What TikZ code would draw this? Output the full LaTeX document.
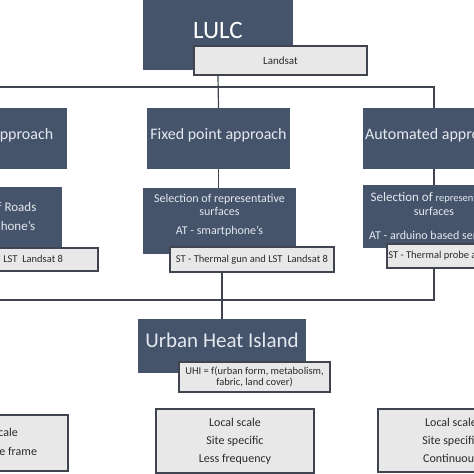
\documentclass[tikz,border=0pt]{standalone}
\usepackage{fontspec}
\setmainfont{Carlito}
\usepackage{xcolor}
\usepackage{tikz}
\usetikzlibrary{positioning,calc}

\definecolor{slate}{HTML}{46546B}
\definecolor{paper}{HTML}{E4E8EF}
\definecolor{sheet}{HTML}{E8E8E8}
\definecolor{rim}{HTML}{3F4450}
\definecolor{ink}{HTML}{2B2B2B}

% depth strut: lifts a node's text a little inside its box
\newcommand\lowstrut[1]{\rule[-#1]{0pt}{#1}}

\begin{document}
\begin{tikzpicture}[x=1pt, y=-1pt,
    darkbox/.style={rectangle, fill=slate, text=paper, inner sep=0pt,
                    align=center},
    greybox/.style={rectangle, draw=rim, fill=sheet, text=ink, line width=1.2pt,
                    inner sep=0pt, align=center},
    headfont/.style={font=\fontsize{16}{18}\selectfont},
    bodyfont/.style={font=\fontsize{12}{13}\selectfont},
    notefont/.style={font=\fontsize{10.5}{11.5}\selectfont},
    link/.style={draw=rim, line width=1.2pt}
]

% --- frame of the (cropped) picture ---
\useasboundingbox (0,0) rectangle (474,474);
\fill[white] (0,0) rectangle (474,474);
\clip (0,0) rectangle (474,474);

% --- top: LULC ---
\node[darkbox, minimum width=150pt, minimum height=80pt,
      font=\fontsize{25}{27}\selectfont, text=white] (lulc) at (218,30) {LULC};
\node[greybox, minimum width=173pt, minimum height=29pt,
      font=\fontsize{11}{12}\selectfont] (landsat) at (280.5,60.5) {Landsat};

% --- three approaches ---
\node[darkbox, headfont, minimum width=138pt, minimum height=61pt] (mobl) at (-2,138.5)
    {Mobile approach\lowstrut{10pt}};
\node[darkbox, headfont, minimum width=143pt, minimum height=61pt] (fixd) at (218.5,138.5)
    {Fixed point approach\lowstrut{10pt}};
\node[darkbox, headfont, minimum width=143pt, minimum height=61pt] (auto) at (434,138.5)
    {Automated approach\lowstrut{10pt}};

% --- selection boxes ---
\node[darkbox, font=\fontsize{13}{14}\selectfont, minimum width=148pt, minimum height=61pt]
    (mobsel) at (-12,217.5)
    {Selection of Roads\\[5pt]AT - smartphone's};
\node[darkbox, bodyfont, minimum width=153pt, minimum height=66pt]
    (fixsel) at (219.5,221)
    {Selection of representative\\surfaces\\[6pt]AT - smartphone's\lowstrut{12.5pt}};
\node[darkbox, font=\fontsize{12}{14}\selectfont, minimum width=143pt, minimum height=63pt]
    (autosel) at (434,216.5)
    {{\fontsize{13}{14}\selectfont Selection of} {\fontsize{10.5}{14}\selectfont representative}\\
     surfaces\\[10pt]AT - arduino based sensors};

% --- sensor tags ---
\node[greybox, notefont, minimum width=222pt, minimum height=23pt] (mobst) at (-13,259.5)
    {ST - Thermal gun and LST\ \ Landsat 8};
\node[greybox, notefont, minimum width=164pt, minimum height=25pt] (fixst) at (252,259.5)
    {ST - Thermal gun and LST\ \ Landsat 8};
\node[greybox, notefont, minimum width=164pt, minimum height=24pt] (autost) at (469,256)
    {ST - Thermal probe and LST\ \ Landsat 8};

% --- Urban Heat Island ---
\node[darkbox, font=\fontsize{21}{23}\selectfont, minimum width=168pt, minimum height=54pt]
    (uhi) at (222,346) {Urban Heat Island\lowstrut{10.6pt}};
\node[greybox, notefont, minimum width=151pt, minimum height=30pt] (uhif) at (254.5,377)
    {UHI = f(urban form, metabolism,\\fabric, land cover)};

% --- outcome boxes ---
\node[greybox, font=\fontsize{12}{19}\selectfont, minimum width=152pt, minimum height=56pt]
    (mobres) at (-8,443) {Local scale\\Longer time frame};
\node[greybox, font=\fontsize{12}{18}\selectfont, minimum width=158pt, minimum height=64pt]
    (fixres) at (235,441) {Local scale\\Site specific\\Less frequency};
\node[greybox, font=\fontsize{12}{18}\selectfont, minimum width=146pt, minimum height=63pt]
    (autores) at (451,440.5) {Local scale\\Site specific\\Continuous};

% --- connectors: LULC to approaches ---
\coordinate (topbus) at (218,87);
\draw[link] (landsat.south -| lulc.south) -- (fixd.north);
\draw[link] (mobl.north) |- (topbus) -| (auto.north);
\draw[link] (mobl.south) -- (mobl.south |- mobsel.north);
\draw[link] (fixd.south) -- (fixd.south |- fixsel.north);
\draw[link] (auto.south) -- (autosel.north);

% --- connectors: tags to UHI ---
\coordinate (lowbus) at (222,300);
\draw[link] (mobst.south -| mobl.south) |- (lowbus) -| (autost.south -| auto.south);
\draw[link] (fixst.south -| uhi.north) -- (uhi.north);

\end{tikzpicture}
\end{document}
